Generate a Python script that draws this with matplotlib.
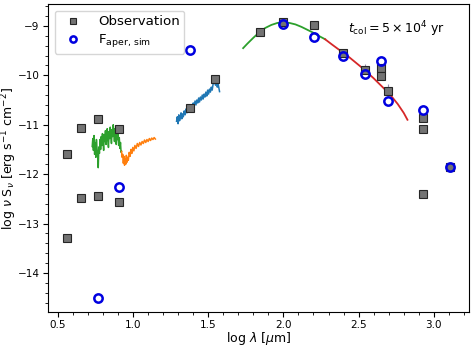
import matplotlib

matplotlib.use("Agg")
import matplotlib.pyplot as plt
from matplotlib.ticker import MultipleLocator

# photometry (log lambda [um], log nu S_nu)
obs_x = [0.558, 0.655, 0.764, 0.906, 0.558, 0.655, 0.764, 0.906,
         1.38, 1.546, 1.843, 2.0, 2.202, 2.397, 2.541, 2.65, 2.65,
         2.696, 2.927, 2.927, 2.927, 3.106]
obs_y = [-11.59, -11.07, -10.88, -11.09, -13.29, -12.49, -12.44, -12.56,
         -10.67, -10.07, -9.12, -8.93, -8.99, -9.54, -9.90, -9.85, -10.02,
         -10.31, -10.87, -11.09, -12.41, -11.86]
err_x = [2.541, 2.696]
err_y = [-9.90, -10.31]
err_up = [0.12, 0.14]

# simulated aperture fluxes
sim_x = [0.764, 0.906, 1.38, 2.0, 2.202, 2.397, 2.541, 2.65, 2.696, 2.927, 3.106]
sim_y = [-14.50, -12.26, -9.48, -8.96, -9.22, -9.60, -9.98, -9.72, -10.51, -10.70, -11.86]

# spectra
spec1_x = [0.728, 0.732, 0.736, 0.740, 0.744, 0.748, 0.752, 0.756, 0.760, 0.764,
           0.768, 0.772, 0.776, 0.780, 0.784, 0.788, 0.792, 0.796, 0.800, 0.804,
           0.808, 0.812, 0.816, 0.820, 0.824, 0.828, 0.832, 0.836, 0.840, 0.844,
           0.848, 0.852, 0.856, 0.860, 0.864, 0.868, 0.872, 0.876, 0.880, 0.884,
           0.888, 0.892, 0.896, 0.900, 0.904, 0.908, 0.912, 0.916, 0.920, 0.923]
spec1_y = [-11.44, -11.28, -11.52, -11.22, -11.60, -11.36, -11.66, -11.30, -11.48,
           -11.62, -11.87, -11.45, -11.58, -11.30, -11.50, -11.24, -11.42, -11.18,
           -11.36, -11.52, -11.20, -11.34, -11.12, -11.40, -11.26, -11.08, -11.30,
           -11.46, -11.14, -11.28, -11.05, -11.22, -11.38, -11.10, -11.24, -11.00,
           -11.18, -11.34, -11.08, -11.22, -11.40, -11.12, -11.30, -11.18, -11.42,
           -11.26, -11.48, -11.36, -11.56, -11.54]
spec2_x = [0.923, 0.927, 0.931, 0.935, 0.939, 0.943, 0.947, 0.951, 0.955, 0.959,
           0.963, 0.968, 0.974, 0.980, 0.986, 0.992, 0.998, 1.005, 1.012, 1.020,
           1.028, 1.036, 1.044, 1.052, 1.060, 1.068, 1.076, 1.084, 1.092, 1.100,
           1.108, 1.116, 1.124, 1.132, 1.140, 1.148]
spec2_y = [-11.54, -11.66, -11.60, -11.78, -11.64, -11.82, -11.70, -11.80, -11.62,
           -11.76, -11.66, -11.72, -11.56, -11.64, -11.50, -11.58, -11.46, -11.53,
           -11.42, -11.48, -11.38, -11.44, -11.36, -11.41, -11.34, -11.38, -11.31,
           -11.36, -11.30, -11.34, -11.28, -11.32, -11.27, -11.30, -11.26, -11.29]
spec3_x = [1.289, 1.294, 1.299, 1.304, 1.309, 1.314, 1.319, 1.324, 1.329, 1.334,
           1.340, 1.346, 1.352, 1.358, 1.364, 1.370, 1.376, 1.382, 1.388, 1.394,
           1.400, 1.406, 1.412, 1.418, 1.424, 1.430, 1.436, 1.442, 1.448, 1.454,
           1.460, 1.466, 1.472, 1.478, 1.484, 1.490, 1.496, 1.502, 1.508, 1.514,
           1.520, 1.526, 1.532, 1.538, 1.542, 1.548, 1.554, 1.560, 1.566, 1.572,
           1.575]
spec3_y = [-10.93, -10.84, -10.98, -10.80, -10.92, -10.86, -10.76, -10.88, -10.78,
           -10.84, -10.72, -10.80, -10.68, -10.76, -10.66, -10.72, -10.62, -10.70,
           -10.60, -10.66, -10.56, -10.62, -10.52, -10.60, -10.50, -10.56, -10.46,
           -10.54, -10.44, -10.50, -10.40, -10.48, -10.38, -10.44, -10.34, -10.42,
           -10.30, -10.38, -10.28, -10.34, -10.24, -10.30, -10.18, -10.12, -10.06,
           -10.20, -10.12, -10.24, -10.18, -10.28, -10.33]
sed_x = [1.732, 1.76, 1.80, 1.843, 1.88, 1.92, 1.96, 2.0, 2.04, 2.08, 2.12,
         2.16, 2.20, 2.24, 2.277]
sed_y = [-9.45, -9.36, -9.24, -9.12, -9.04, -8.98, -8.94, -8.93, -8.94, -8.97,
         -9.02, -9.08, -9.14, -9.21, -9.27]
fit_x = [2.277, 2.32, 2.36, 2.397, 2.44, 2.48, 2.52, 2.56, 2.60, 2.64, 2.68,
         2.72, 2.76, 2.80, 2.825]
fit_y = [-9.27, -9.37, -9.46, -9.54, -9.64, -9.74, -9.84, -9.95, -10.06, -10.18,
         -10.30, -10.43, -10.58, -10.76, -10.90]

fig = plt.figure(figsize=(4.74, 3.47), dpi=100)
ax = fig.add_axes([0.101, 0.101, 0.888, 0.887])

ax.plot(spec1_x, spec1_y, color="C2", lw=1.1)
ax.plot(spec2_x, spec2_y, color="C1", lw=1.1)
ax.plot(spec3_x, spec3_y, color="C0", lw=1.1)
ax.plot(sed_x, sed_y, color="C2", lw=1.3)
ax.plot(fit_x, fit_y, color="C3", lw=1.3)

ax.errorbar(err_x, err_y, yerr=[[0, 0], err_up], fmt="none", ecolor="#9a8fb0", lw=0.8)
ax.plot(obs_x, obs_y, "s", color="0.45", mec="0.15", mew=0.8, ms=5.5, label="Observation")
ax.plot(sim_x, sim_y, "o", mfc="none", mec="#0000e0", mew=1.8, ms=6,
        label=r"F$_{\rm aper,\,sim}$")

ax.text(0.943, 0.95, r"$t_{\rm col} = 5\times10^4$ yr", transform=ax.transAxes,
        ha="right", va="top", fontsize=9)

ax.set_xlim(0.433, 3.233)
ax.set_ylim(-14.79, -8.56)
ax.set_xticks([0.5, 1.0, 1.5, 2.0, 2.5, 3.0])
ax.set_yticks([-14, -13, -12, -11, -10, -9])
ax.xaxis.set_minor_locator(MultipleLocator(0.1))
ax.yaxis.set_minor_locator(MultipleLocator(0.2))
ax.tick_params(labelsize=7.5, pad=2.5)
ax.set_xlabel(r"log $\lambda$ [$\mu$m]", fontsize=9, labelpad=0)
ax.set_ylabel(r"log $\nu$ S$_\nu$ [erg s$^{-1}$ cm$^{-2}$]", fontsize=9, labelpad=-1)
ax.legend(loc="upper left", fontsize=9.6, markerscale=0.75, handletextpad=0.9,
          borderpad=0.35, labelspacing=0.3)

fig.savefig("out.png", dpi=100)
